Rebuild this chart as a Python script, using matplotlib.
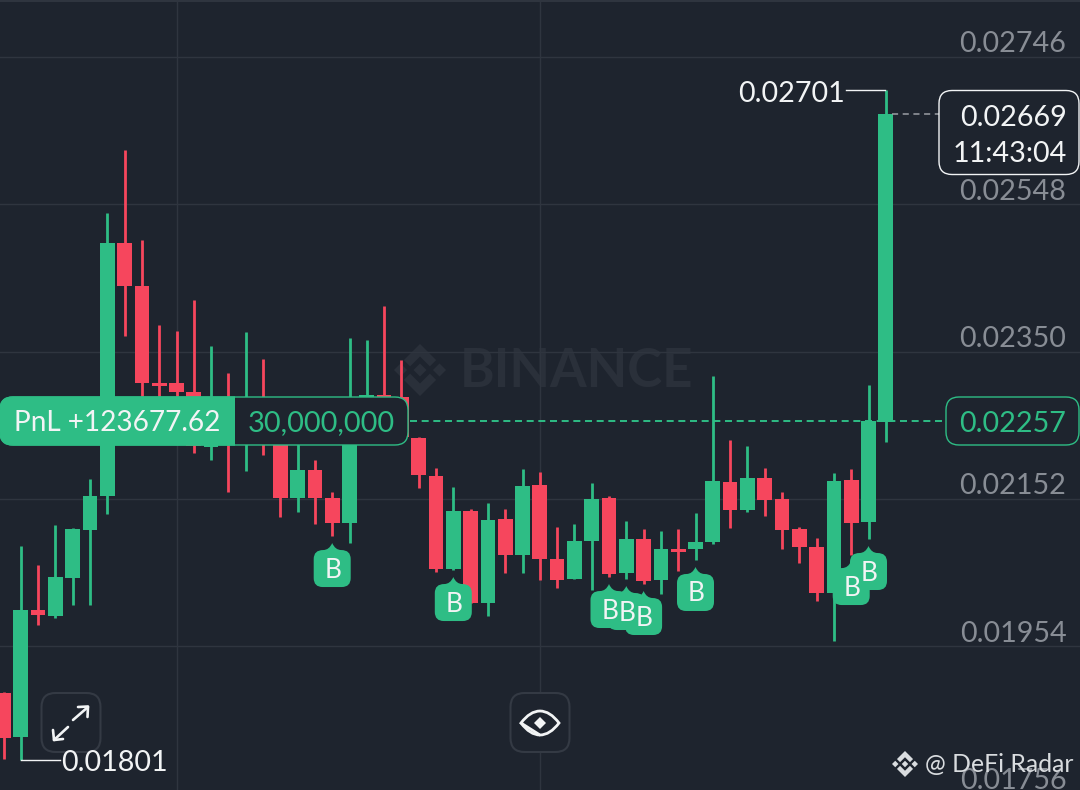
import matplotlib
matplotlib.use('Agg')
import matplotlib.pyplot as plt
from matplotlib.patches import FancyBboxPatch, Polygon, PathPatch, Rectangle
from matplotlib.path import Path

plt.rcParams['font.family'] = ['Lato', 'DejaVu Sans']

BG = '#1e242e'
GRID = '#2f353f'
GREEN = '#2ebd85'
RED = '#f6465d'
GREY = '#888d95'
WHITE = '#f2f4f5'

# candles, oldest first (bodies behind the PnL label are a guess)
opens = [0.018911, 0.018319, 0.020026, 0.019946, 0.020456, 0.021102, 0.021559, 0.024960, 0.024382, 0.023078,
         0.023078, 0.022957, 0.022217, 0.022715, 0.022379, 0.022782, 0.022446, 0.021532, 0.021908, 0.021532,
         0.021196, 0.022580, 0.022916, 0.022889, 0.022338, 0.021828, 0.020577, 0.021357, 0.020120, 0.021250,
         0.020766, 0.021707, 0.020712, 0.020443, 0.020954, 0.021532, 0.020524, 0.020981, 0.020430, 0.020846,
         0.020846, 0.020940, 0.021747, 0.021371, 0.021801, 0.021518, 0.021115, 0.020873, 0.020255, 0.021774,
         0.021209, 0.022553]
highs = [0.018925, 0.020887, 0.020631, 0.021169, 0.021129, 0.021787, 0.025363, 0.026210, 0.025000, 0.023857,
         0.023777, 0.024193, 0.023575, 0.023212, 0.023763, 0.023400, 0.022715, 0.022379, 0.022043, 0.021613,
         0.023683, 0.023656, 0.024113, 0.023387, 0.022352, 0.021935, 0.021680, 0.021384, 0.021465, 0.021384,
         0.021922, 0.021881, 0.021142, 0.021182, 0.021734, 0.021559, 0.021223, 0.021115, 0.021088, 0.021115,
         0.021330, 0.023172, 0.022312, 0.022231, 0.021935, 0.021613, 0.021142, 0.020994, 0.021868, 0.021922,
         0.023051, 0.027010]
lows = [0.018023, 0.018010, 0.019825, 0.019919, 0.020094, 0.020094, 0.021317, 0.023709, 0.022849, 0.022849,
        0.022782, 0.022137, 0.022043, 0.021613, 0.021895, 0.022110, 0.021276, 0.021344, 0.021182, 0.021021,
        0.020927, 0.022312, 0.022446, 0.022352, 0.021666, 0.020537, 0.020564, 0.020120, 0.019946, 0.020524,
        0.020524, 0.020430, 0.020322, 0.020443, 0.020295, 0.020470, 0.020443, 0.020376, 0.020241, 0.020551,
        0.020698, 0.020914, 0.021129, 0.021344, 0.021290, 0.020846, 0.020658, 0.020147, 0.019610, 0.020766,
        0.020981, 0.022285]
closes = [0.018306, 0.020026, 0.019959, 0.020470, 0.021115, 0.021559, 0.024960, 0.024382, 0.023078, 0.023037,
          0.022957, 0.022231, 0.022715, 0.022379, 0.022782, 0.022446, 0.021532, 0.021908, 0.021532, 0.021196,
          0.022580, 0.022916, 0.022580, 0.022352, 0.021841, 0.020577, 0.021357, 0.020120, 0.021236, 0.020766,
          0.021693, 0.020712, 0.020430, 0.020954, 0.021518, 0.020510, 0.020981, 0.020416, 0.020846, 0.020806,
          0.020940, 0.021760, 0.021371, 0.021801, 0.021505, 0.021102, 0.020873, 0.020255, 0.021760, 0.021196,
          0.022567, 0.026694]

tick_prices = [0.02746, 0.02548, 0.02350, 0.02152, 0.01954, 0.01756]
tick_labels = ['0.02746', '0.02548', '0.02350', '0.02152', '0.01954', '0.01756']
grid_candles = [10, 31]

last_price = 0.02257
current_price = 0.02669
high_price = 0.02701
low_price = 0.01801
countdown = '11:43:04'
pnl_text = 'PnL +123677.62'
size_text = '30,000,000'

# buy markers: candle and the price level of the B letter
buy_candles = [19, 26, 35, 36, 37, 40, 49, 50]
buy_prices = [0.020577, 0.020120, 0.020026, 0.019999, 0.019932, 0.020255, 0.020335, 0.020537]

X0 = 3.5
STEP = 17.3
TOP_PRICE = 0.028226
PRICE_PER_PX = 0.000013442
FS = 20.7


def px_x(i):
    return X0 + STEP * i


def px_y(p):
    return (TOP_PRICE - p) / PRICE_PER_PX


def pixel_axes(z):
    a = fig.add_axes([0, 0, 1, 1], facecolor='none', zorder=z)
    a.set_xlim(0, 1080)
    a.set_ylim(790, 0)
    a.axis('off')
    return a


def logo(a, cx, cy, r, color, z=1):
    # binance mark: centre and side diamonds, top and bottom chevrons
    def diamond(x, y, s):
        a.add_patch(Polygon([(cx + x * r, cy + (y - s) * r), (cx + (x + s) * r, cy + y * r),
                             (cx + x * r, cy + (y + s) * r), (cx + (x - s) * r, cy + y * r)],
                            fc=color, ec='none', zorder=z))
    diamond(0, 0, 0.25)
    diamond(-0.75, 0, 0.25)
    diamond(0.75, 0, 0.25)
    for sign in (-1, 1):
        a.add_patch(Polygon([(cx, cy + sign * 1.0 * r), (cx + 0.62 * r, cy + sign * 0.38 * r),
                             (cx + 0.38 * r, cy + sign * 0.14 * r), (cx, cy + sign * 0.52 * r),
                             (cx - 0.38 * r, cy + sign * 0.14 * r), (cx - 0.62 * r, cy + sign * 0.38 * r)],
                            fc=color, ec='none', zorder=z))


def box(a, x, y, w, h, fc, ec, lw=1.1, r=13, z=5):
    p = FancyBboxPatch((x, y), w, h, boxstyle='round,pad=0,rounding_size=%d' % r,
                       fc=fc, ec=ec, lw=lw, zorder=z)
    a.add_patch(p)
    return p


def buy_marker(a, x, y):
    w, t, b, r = 18.5, -19, 18, 9
    verts = [(x - 9, y + t), (x - 3, y + t), (x, y - 26), (x + 3, y + t), (x + 9, y + t),
             (x + w, y + t), (x + w, y + t + r), (x + w, y + b - r), (x + w, y + b), (x + w - r, y + b),
             (x - w + r, y + b), (x - w, y + b), (x - w, y + b - r), (x - w, y + t + r), (x - w, y + t),
             (x - 9, y + t), (x - 9, y + t)]
    codes = [Path.MOVETO, Path.CURVE3, Path.CURVE3, Path.CURVE3, Path.CURVE3,
             Path.CURVE3, Path.CURVE3, Path.LINETO, Path.CURVE3, Path.CURVE3,
             Path.LINETO, Path.CURVE3, Path.CURVE3, Path.LINETO, Path.CURVE3, Path.CURVE3, Path.CLOSEPOLY]
    a.add_patch(PathPatch(Path(verts, codes), fc=GREEN, ec='none', zorder=3))


fig = plt.figure(figsize=(10.8, 7.9), dpi=100, facecolor=BG)

# faint watermark goes under the candles
wm = pixel_axes(0)
logo(wm, 420, 370, 26, '#2a303a')
wm.text(577, 371.5, 'BINANCE', color='#2a303a', fontsize=38, fontweight='bold', ha='center', va='center')

# price chart, one x unit per candle
ax = fig.add_axes([0, 0, 1, 1], facecolor='none', zorder=1)
ax.set_xlim(-X0 / STEP, (1080 - X0) / STEP)
ax.set_ylim(TOP_PRICE - 790 * PRICE_PER_PX, TOP_PRICE)
ax.axis('off')

ax.hlines(tick_prices, -5, 100, color=GRID, lw=1, zorder=1)
ax.vlines(grid_candles, 0, 1, color=GRID, lw=1, zorder=1)

for i in range(len(opens)):
    col = GREEN if closes[i] >= opens[i] else RED
    ax.vlines(i, lows[i], highs[i], color=col, lw=2.0, zorder=2)
    ax.bar(i, abs(closes[i] - opens[i]), bottom=min(opens[i], closes[i]), width=14.7 / STEP, color=col, zorder=2)

# everything else is drawn on top in pixels
ov = pixel_axes(2)

ov.plot([0, 1080], [0.8, 0.8], color=GRID, lw=1.5, zorder=1)

# axis labels sit just above their grid lines
for p, lab in zip(tick_prices, tick_labels):
    ov.text(1066.5, px_y(p) - 12.5, lab, color=GREY, fontsize=FS, ha='right', va='center', zorder=2)

# buy markers, letters after all the shapes so none gets covered
for i, p in zip(buy_candles, buy_prices):
    buy_marker(ov, px_x(i), px_y(p))
for i, p in zip(buy_candles, buy_prices):
    ov.text(px_x(i) + 1, px_y(p) + 1, 'B', color=WHITE, fontsize=19, ha='center', va='center', zorder=4)

# entry line and PnL label
ly = px_y(last_price)
ov.plot([410, 946], [ly, ly], color=GREEN, lw=1.4, dashes=(3.6, 2.4), zorder=4)
box(ov, 0, 397, 408, 48, BG, GREEN, lw=1.0)
left = box(ov, 0, 397, 250, 48, GREEN, GREEN, lw=1.0, z=6)
left.set_clip_path(Rectangle((0, 390), 235, 60, transform=ov.transData))
ov.text(14, 423, pnl_text, color=WHITE, fontsize=20.2, ha='left', va='center', zorder=7)
ov.text(395, 423, size_text, color=GREEN, fontsize=20.9, ha='right', va='center', zorder=7)

box(ov, 946, 397, 133, 48, BG, GREEN, lw=1.0)
ov.text(1066.5, 423.5, '%.5f' % last_price, color=GREEN, fontsize=FS, ha='right', va='center', zorder=7)

# current price box
cy = px_y(current_price)
ov.plot([892, 939], [cy, cy], color='#9a9ea4', lw=1.1, dashes=(4, 3), zorder=4)
box(ov, 939, 90.5, 140, 84, BG, WHITE, lw=1.0)
ov.text(1066.5, 118, '%.5f' % current_price, color=WHITE, fontsize=FS, ha='right', va='center', zorder=7)
ov.text(1066.5, 154, countdown, color=WHITE, fontsize=FS, ha='right', va='center', zorder=7)

# high and low callouts
hy = px_y(high_price)
ov.plot([846, 885], [hy, hy], color=WHITE, lw=1.0, zorder=4)
ov.text(845, 94, '%.5f' % high_price, color=WHITE, fontsize=FS, ha='right', va='center', zorder=7)

# buttons
box(ov, 41.5, 693, 59, 59, BG, '#343a44', lw=1.5, r=14)
for seg in [[(73, 720), (88, 707)], [(78, 707), (88, 706.5), (87.5, 717)],
            [(68, 727), (54, 740)], [(53, 730), (54, 740), (63, 739)]]:
    ov.plot(*zip(*seg), color=WHITE, lw=1.9, zorder=6, solid_capstyle='round')

ly2 = px_y(low_price)
ov.plot([21, 60], [ly2, ly2], color=WHITE, lw=1.0, zorder=6)
ov.text(61, 763, '%.5f' % low_price, color=WHITE, fontsize=FS, ha='left', va='center', zorder=7)

box(ov, 510.5, 693, 59, 59, BG, '#343a44', lw=1.5, r=14)
eye_codes = [Path.MOVETO, Path.CURVE3, Path.CURVE3, Path.CURVE3, Path.CURVE3, Path.CURVE3, Path.CURVE3, Path.CLOSEPOLY]
ov.add_patch(PathPatch(Path([(521, 723), (530, 711), (540, 711), (550, 711), (559, 723),
                             (550, 735), (540, 735), (521, 723)], eye_codes),
                       fc='none', ec=WHITE, lw=2.0, zorder=6))
ov.add_patch(PathPatch(Path([(540, 735), (530, 735), (521, 723)], [Path.MOVETO, Path.CURVE3, Path.CURVE3]),
                       fc='none', ec=WHITE, lw=2.0, zorder=6))
ov.add_patch(Polygon([(540, 717), (546, 723), (540, 729), (534, 723)], fc=WHITE, ec='none', zorder=6))

# credit in the corner
logo(ov, 905, 764, 13, '#d9dcdf', z=8)
ov.text(925, 764.5, '@ DeFi Radar', color='#d9dcdf', fontsize=17.8, ha='left', va='center', zorder=8)

fig.savefig('out.png', dpi=100, facecolor=BG)
